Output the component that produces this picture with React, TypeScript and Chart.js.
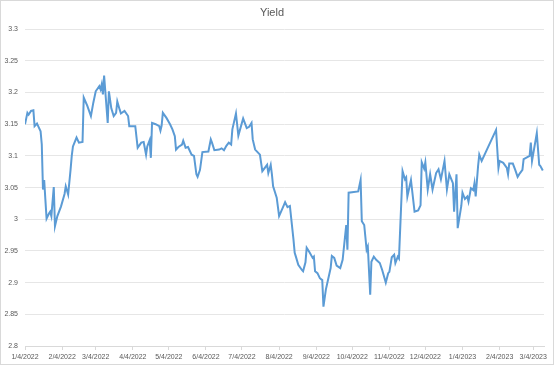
import React, { useEffect, useRef } from "react";
import { Chart, registerables } from "chart.js";

Chart.register(...registerables);

const chartTitle = "Yield";
const startDate = "1/4/2022";

// day offsets from startDate (calendar days)
const dayOffsets = [
  0, 2, 3, 5, 7, 8, 10, 11, 13, 14,
  15, 16, 17, 18, 20, 21, 22, 24, 25, 27,
  30, 33, 34, 36, 38, 39, 40, 43, 45, 48,
  49, 52, 55, 57, 59, 62, 63, 64, 65, 66,
  69, 70, 72, 74, 76, 77, 79, 80, 83, 86,
  87, 92, 94, 97, 99, 101, 102, 104, 105, 106,
  109, 112, 113, 114, 115, 118, 121, 123, 125, 126,
  128, 131, 132, 134, 136, 139, 141, 143, 144, 146,
  148, 153, 155, 156, 158, 162, 164, 166, 168, 170,
  172, 173, 176, 178, 182, 185, 187, 189, 190, 192,
  194, 196, 198, 202, 203, 205, 206, 207, 210, 212,
  215, 217, 219, 221, 224, 225, 226, 228, 231, 232,
  234, 235, 237, 240, 241, 242, 244, 246, 248, 249,
  251, 255, 256, 258, 260, 263, 265, 268, 269, 270,
  278, 280, 281, 283, 285, 286, 288, 289, 291, 293,
  296, 298, 301, 303, 304, 306, 308, 309, 311, 312,
  315, 317, 318, 319, 322, 325, 328, 330, 331, 333,
  334, 336, 338, 340, 343, 345, 347, 350, 352, 354,
  357, 358, 360, 361, 364, 365, 367, 369, 370, 372,
  374, 375, 376, 378, 379, 381, 393, 395, 396, 399,
  402, 403, 404, 407, 409, 411, 413, 415, 416, 418,
  421, 422, 423, 427, 429, 430, 432,
];

const yields = [
  3.150, 3.168, 3.165, 3.171, 3.172, 3.147, 3.151, 3.147, 3.139, 3.118,
  3.047, 3.062, 3.031, 3.001, 3.009, 3.012, 3.005, 3.051, 2.989, 3.005,
  3.020, 3.040, 3.052, 3.039, 3.078, 3.100, 3.115, 3.129, 3.121, 3.122,
  3.192, 3.179, 3.163, 3.184, 3.202, 3.210, 3.205, 3.213, 3.197, 3.227,
  3.152, 3.202, 3.175, 3.163, 3.168, 3.186, 3.173, 3.167, 3.171, 3.163,
  3.147, 3.147, 3.113, 3.121, 3.122, 3.102, 3.115, 3.125, 3.097, 3.152,
  3.150, 3.147, 3.140, 3.148, 3.168, 3.160, 3.150, 3.142, 3.131, 3.110,
  3.114, 3.118, 3.124, 3.113, 3.114, 3.102, 3.100, 3.071, 3.067, 3.078,
  3.106, 3.107, 3.126, 3.121, 3.109, 3.110, 3.112, 3.109, 3.116, 3.121,
  3.118, 3.142, 3.167, 3.132, 3.159, 3.144, 3.146, 3.152, 3.126, 3.110,
  3.106, 3.102, 3.076, 3.086, 3.073, 3.086, 3.071, 3.052, 3.034, 3.005,
  3.018, 3.027, 3.019, 3.021, 2.968, 2.947, 2.941, 2.928, 2.920, 2.918,
  2.932, 2.955, 2.949, 2.939, 2.941, 2.918, 2.915, 2.907, 2.904, 2.862,
  2.889, 2.923, 2.942, 2.939, 2.927, 2.923, 2.936, 2.991, 2.952, 3.042,
  3.044, 3.062, 2.997, 2.991, 2.952, 2.957, 2.881, 2.933, 2.941, 2.936,
  2.931, 2.920, 2.900, 2.915, 2.917, 2.940, 2.944, 2.931, 2.941, 2.938,
  3.076, 3.063, 3.066, 3.036, 3.062, 3.012, 3.014, 3.022, 3.090, 3.080,
  3.090, 3.047, 3.071, 3.047, 3.073, 3.079, 3.063, 3.092, 3.047, 3.071,
  3.057, 3.012, 3.071, 2.986, 3.021, 3.042, 3.032, 3.036, 3.028, 3.049,
  3.046, 3.057, 3.036, 3.084, 3.102, 3.092, 3.141, 3.081, 3.092, 3.089,
  3.081, 3.071, 3.088, 3.088, 3.078, 3.067, 3.073, 3.078, 3.095, 3.097,
  3.100, 3.121, 3.092, 3.136, 3.086, 3.084, 3.077,
];

const xTickLabels = [
  "1/4/2022", "2/4/2022", "3/4/2022", "4/4/2022", "5/4/2022",
  "6/4/2022", "7/4/2022", "8/4/2022", "9/4/2022", "10/4/2022",
  "11/4/2022", "12/4/2022", "1/4/2023", "2/4/2023", "3/4/2023",
];

const yMin = 2.8;
const yMax = 3.3;
const yStep = 0.05;
const xMaxDay = 433;

function parseMDY(s: string): number {
  const [m, d, y] = s.split("/").map(Number);
  return Date.UTC(y, m - 1, d);
}
const DAY = 86400000;
const startMs = parseMDY(startDate);
const tickDays = xTickLabels.map((l) => Math.round((parseMDY(l) - startMs) / DAY));

const FONT = "'Liberation Sans', Arial, sans-serif";

export default function App() {
  const ref = useRef<HTMLCanvasElement | null>(null);

  useEffect(() => {
    document.body.style.margin = "0";
    if (!ref.current) return;
    const points = dayOffsets.map((d, i) => ({ x: d, y: yields[i] }));

    const borderPlugin = {
      id: "chartBorder",
      afterDraw(chart: any) {
        const ctx = chart.ctx;
        ctx.save();
        ctx.strokeStyle = "#d9d9d9";
        ctx.lineWidth = 1;
        ctx.strokeRect(0.5, 0.5, chart.width - 1, chart.height - 1);
        ctx.restore();
      },
    };

    const chart = new Chart(ref.current, {
      type: "line",
      data: {
        datasets: [
          {
            label: chartTitle,
            data: points,
            borderColor: "#5b9bd5",
            backgroundColor: "#5b9bd5",
            borderWidth: 2,
            pointRadius: 0,
            tension: 0,
            fill: false,
          },
        ],
      },
      options: {
        animation: false,
        responsive: false,
        devicePixelRatio: 1,
        layout: { padding: { left: 0, right: 10, top: 0, bottom: 0 } },
        plugins: {
          legend: { display: false },
          tooltip: { enabled: false },
          title: {
            display: true,
            text: chartTitle,
            color: "#595959",
            font: { family: FONT, size: 11, weight: "normal" },
            padding: { top: 6, bottom: 10 },
          },
        },
        scales: {
          x: {
            type: "linear",
            min: 0,
            max: xMaxDay,
            afterBuildTicks(scale: any) {
              scale.ticks = tickDays.map((v) => ({ value: v }));
            },
            afterFit(scale: any) {
              scale.height = 19;
            },
            ticks: {
              autoSkip: false,
              maxRotation: 0,
              minRotation: 0,
              color: "#595959",
              padding: 3,
              font: { family: FONT, size: 7 },
              callback: (v: any) => {
                const i = tickDays.indexOf(Number(v));
                return i >= 0 ? xTickLabels[i] : "";
              },
            },
            grid: {
              display: true,
              drawOnChartArea: false,
              drawTicks: true,
              tickLength: 4,
              tickColor: "#d9d9d9",
              color: "#d9d9d9",
            },
            border: { display: true, color: "#d9d9d9", width: 1 },
          },
          y: {
            type: "linear",
            min: yMin,
            max: yMax,
            afterFit(scale: any) {
              scale.width = 25;
            },
            ticks: {
              stepSize: yStep,
              color: "#595959",
              padding: 7,
              font: { family: FONT, size: 7 },
              callback: (v: any) => String(parseFloat(Number(v).toFixed(2))),
            },
            grid: {
              color: "#e6e6e6",
              drawTicks: false,
              lineWidth: 1,
            },
            border: { display: false },
          },
        },
      },
      plugins: [borderPlugin],
    });
    return () => chart.destroy();
  }, []);

  return (
    <div style={{ width: 554, height: 365 }}>
      <canvas ref={ref} width={554} height={365} style={{ display: "block" }} />
    </div>
  );
}
